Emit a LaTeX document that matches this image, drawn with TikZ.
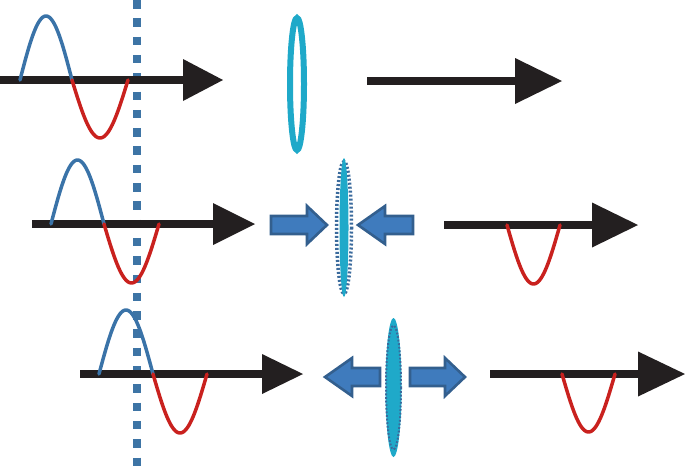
\documentclass[tikz,border=0pt]{standalone}
\usetikzlibrary{calc}
\definecolor{arrowblack}{HTML}{231F20}
\definecolor{sineblue}{HTML}{3A73A8}
\definecolor{sinered}{HTML}{C9211E}
\definecolor{dashblue}{HTML}{3D74A5}
\definecolor{lenscyan}{HTML}{1FA9C9}
\definecolor{blockfill}{HTML}{3F7BBD}
\definecolor{blockdraw}{HTML}{335F8E}
\definecolor{lensdash}{HTML}{3A6A9C}
\tikzset{
  shaft/.style={draw=arrowblack, line width=8pt},
  head/.style={fill=arrowblack},
  bluewave/.style={draw=sineblue, line width=3.5pt, line cap=round},
  redwave/.style={draw=sinered, line width=3.5pt, line cap=round},
  blockarrow/.style={fill=blockfill, draw=blockdraw, line width=2.6pt, line join=miter},
}
% black arrow: #1 start x, #2 head base x, #3 tip x, #4 y, #5 half height
\newcommand\mybarrow[5]{%
  \coordinate (s) at (#1,#4);
  \coordinate (b) at (#2,#4);
  \draw[shaft] (s) -- ($(b)+(1,0)$);
  \fill[head] ($(b)+(0,-#5)$) -- (#3,#4) -- ($(b)+(0,#5)$) -- cycle;
}
% half sine: #1 x start, #2 x end, #3 y base, #4 amplitude (+ up), #5 style
\newcommand\myhalfsine[5]{%
  \draw[#5] plot[domain=0:180, samples=40, smooth] ({#1+(#2-#1)*\x/180},{#3-#4*sin(\x)});
}
% block arrow: #1 tail x, #2 head base x, #3 tip x, #4 y
\newcommand\myblock[4]{%
  \draw[blockarrow] (#1,#4-9) -- (#2,#4-9) -- (#2,#4-19) -- (#3,#4) -- (#2,#4+19) -- (#2,#4+9) -- (#1,#4+9) -- cycle;
}
\begin{document}
\begin{tikzpicture}[x=1pt, y=-1pt]
\useasboundingbox (0,0) rectangle (685,467);

% dashed vertical line
\coordinate (dtop) at (137,0);
\coordinate (dbot) at (137,467);
\draw[dashblue, line width=8.5pt, dash pattern=on 8.5pt off 9.8pt] (dtop) -- (dbot);

% ---------- Row 1 ----------
\mybarrow{0}{183}{223}{80}{21}
\myhalfsine{20}{72}{80}{64}{bluewave}
\myhalfsine{72}{128}{80}{-58}{redwave}
\draw[lenscyan, line width=6pt] (297,84) ellipse [x radius=7, y radius=66];
\mybarrow{367}{515}{562}{81}{23}

% ---------- Row 2 ----------
\mybarrow{32}{213}{255}{224}{21}
\myhalfsine{51}{104}{224}{64}{bluewave}
\myhalfsine{104}{159}{224}{-59}{redwave}
\myblock{271}{307}{327}{225}
\myblock{413}{385}{358}{225}
\draw[lensdash, line width=3.5pt, dash pattern=on 2pt off 2pt] (344,227.5) ellipse [x radius=7.5, y radius=66];
\fill[lenscyan] (344,227.5) ellipse [x radius=4.5, y radius=69.5];
\mybarrow{444}{592}{638}{225}{22.5}
\myhalfsine{507}{560}{225}{-59}{redwave}

% ---------- Row 3 ----------
\mybarrow{80}{262}{303}{374}{20}
\myhalfsine{99}{153}{374}{64}{bluewave}
\myhalfsine{153}{207}{374}{-59}{redwave}
\myblock{380}{352}{325}{377}
\myblock{410}{445}{465}{377}
\fill[lenscyan] (393.5,387.5) ellipse [x radius=8, y radius=69.5];
\draw[lensdash, line width=2pt, dash pattern=on 1.8pt off 1.8pt] (393.5,387.5) ellipse [x radius=7.5, y radius=62];
\mybarrow{490}{638}{685}{374}{22.5}
\myhalfsine{562}{615}{374}{-58}{redwave}
\end{tikzpicture}
\end{document}
